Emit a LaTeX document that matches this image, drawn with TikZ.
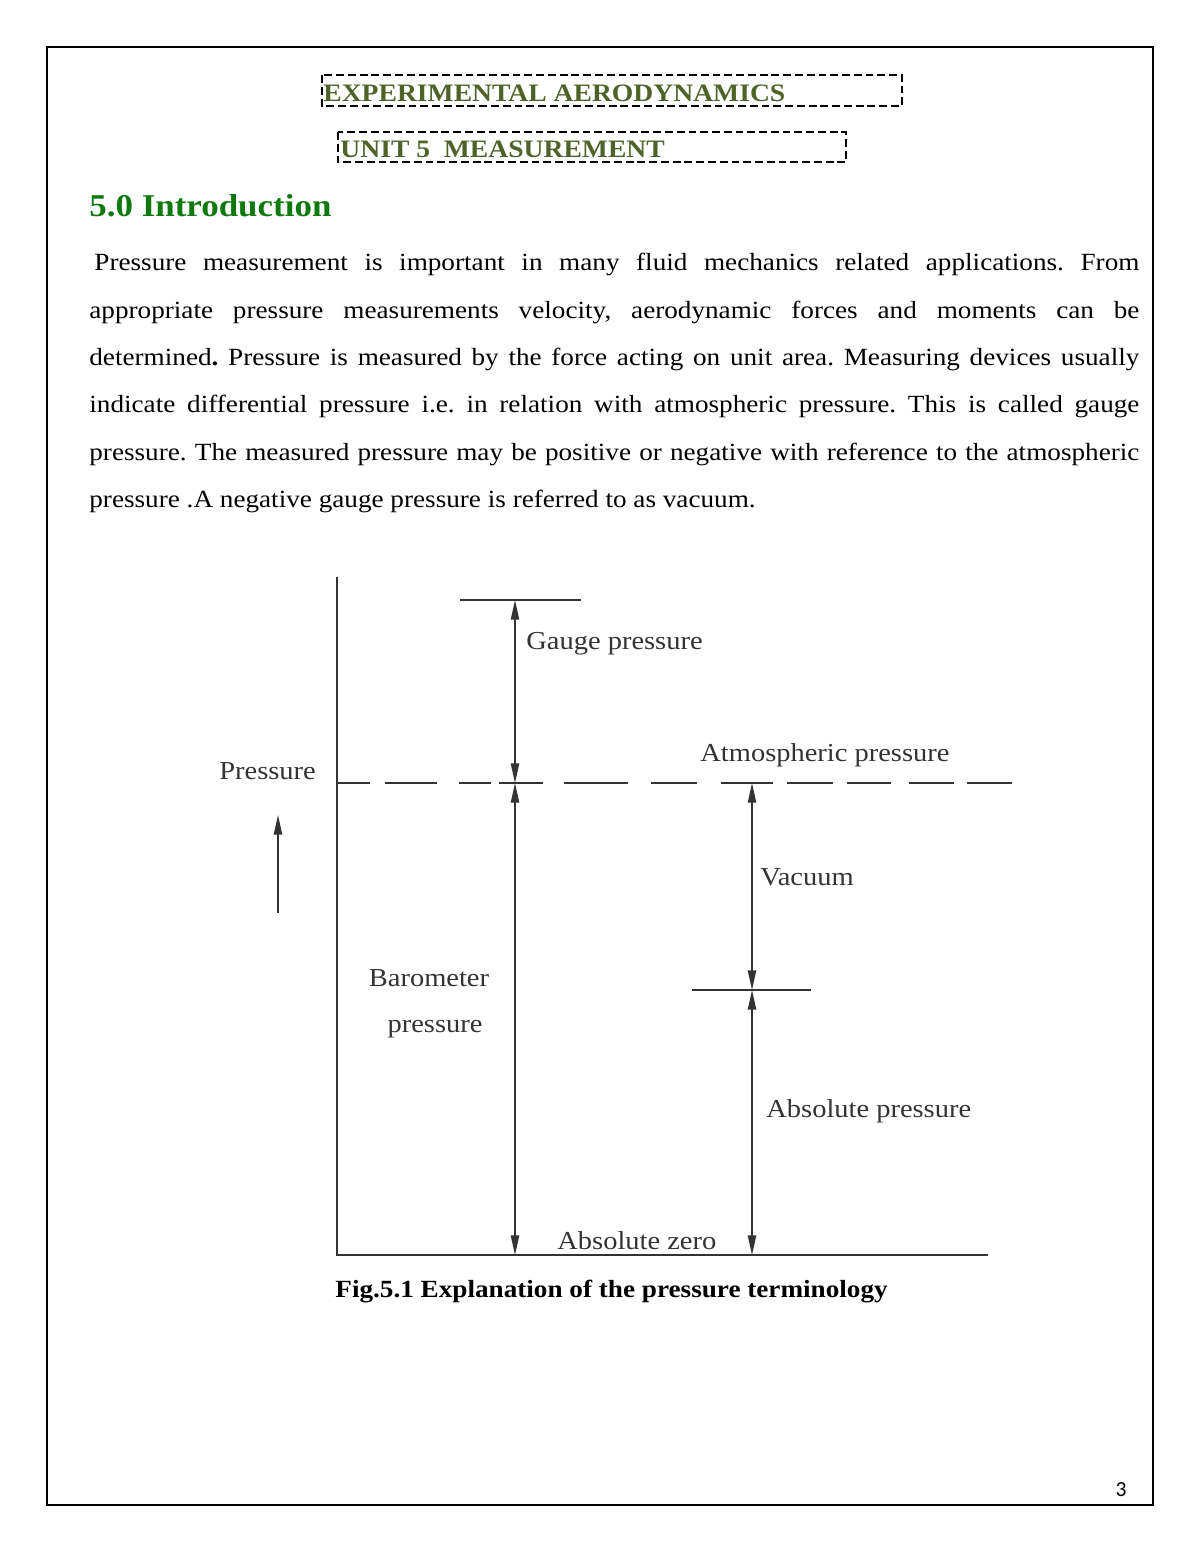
\documentclass[tikz,border=0pt]{standalone}
\usepackage{fontspec}
\setmainfont{Liberation Serif}[FakeStretch=1.1]
\newfontfamily\pagenofont{Carlito}
\usetikzlibrary{arrows.meta}
\definecolor{titleolive}{HTML}{4F6228}
\definecolor{headgreen}{HTML}{0E7A0E}
\definecolor{figgrey}{HTML}{333333}
\newlength\pxu
\setlength\pxu{0.51pt}

\begin{document}
\frenchspacing
\begin{tikzpicture}[x=0.51pt,y=-0.51pt]
\tikzset{
  pageframe/.style={draw=black,line width=0.6pt},
  titlebox/.style={draw=black,line width=1.4pt,dash pattern=on 4pt off 2pt},
  titletext/.style={anchor=base west,inner sep=0pt,text=titleolive,font=\fontsize{12.8}{15}\selectfont\bfseries},
  bodyline/.style={anchor=base west,inner sep=0pt,font=\fontsize{12.6}{15}\selectfont},
  figlabel/.style={inner sep=0pt,text=figgrey,font=\fontsize{13.2}{16}\selectfont},
  figline/.style={draw=figgrey,line width=1pt},
  dimarrow/.style={draw=figgrey,line width=0.8pt,{Triangle[length=10pt,width=4.2pt]}-{Triangle[length=10pt,width=4.2pt]}},
  uparrow/.style={draw=figgrey,line width=0.8pt,-{Triangle[length=10pt,width=4.2pt]}}
}
\useasboundingbox (0,0) rectangle (1200,1553);
\draw[pageframe] (47,47) rectangle (1153,1505);
% header
\draw[titlebox] (322,75) rectangle (902,106);
\draw[titlebox] (338,132) rectangle (846,162);
\node[titletext] (n_course) at (323,102) {EXPERIMENTAL AERODYNAMICS};
\node[titletext] (n_unit) at (340,158) {UNIT 5\ \ MEASUREMENT};
\node[anchor=base west,inner sep=0pt,text=headgreen,font=\fontsize{16.2}{19}\selectfont\bfseries] (n_intro) at (89,217) {5.0 Introduction};
% paragraph
\node[bodyline] (n_l1) at (94,270) {\makebox[1045\pxu][s]{Pressure measurement is important in many fluid mechanics related applications. From}};
\node[bodyline] (n_l2) at (89,318) {\makebox[1050\pxu][s]{appropriate pressure measurements velocity, aerodynamic forces and moments can be}};
\node[bodyline] (n_l3) at (89,365) {\makebox[1050\pxu][s]{determined\textbf{.} Pressure is measured by the force acting on unit area. Measuring devices usually}};
\node[bodyline] (n_l4) at (89,412) {\makebox[1050\pxu][s]{indicate differential pressure i.e. in relation with atmospheric pressure. This is called gauge}};
\node[bodyline] (n_l5) at (89,460) {\makebox[1050\pxu][s]{pressure. The measured pressure may be positive or negative with reference to the atmospheric}};
\node[bodyline] (n_l6) at (89,507) {pressure .A negative gauge pressure is referred to as vacuum.};
% figure
\draw[figline] (337,577) -- (337,1255) -- (988,1255);
\draw[figline] (460,600) -- (581,600);
\draw[figline] (692,990) -- (811,990);
\foreach \a/\b in {337/370,385/437,459/491,499/543,564/628,651/697,721/773,787/833,847/891,909/954,967/1012}
  \draw[figline] (\a,783) -- (\b,783);
\coordinate (c_gtop) at (515,600);
\coordinate (c_gatm) at (515,783);
\coordinate (c_gzero) at (515,1255);
\coordinate (c_vatm) at (752,783);
\coordinate (c_vbot) at (752,990);
\coordinate (c_vzero) at (752,1255);
\coordinate (c_pbot) at (278,913);
\coordinate (c_ptop) at (278,815);
\draw[dimarrow] (c_gtop) -- (c_gatm);
\draw[dimarrow] (c_gatm) -- (c_gzero);
\draw[dimarrow] (c_vatm) -- (c_vbot);
\draw[dimarrow] (c_vbot) -- (c_vzero);
\draw[uparrow] (c_pbot) -- (c_ptop);
\node[figlabel,anchor=base west] (n_gauge) at (526,649) {Gauge pressure};
\node[figlabel,anchor=base west] (n_atm) at (700,761) {Atmospheric pressure};
\node[figlabel,anchor=base west] (n_pres) at (219,779) {Pressure};
\node[figlabel,anchor=base west] (n_vac) at (760,885) {Vacuum};
\node[figlabel,anchor=north,align=center] (n_baro) at (429,969) {Barometer\\[7.5pt]\hspace*{12\pxu}pressure};
\node[figlabel,anchor=base west] (n_abs) at (766,1117) {Absolute pressure};
\node[figlabel,anchor=base west] (n_zero) at (557,1249) {Absolute zero};
\node[anchor=base west,inner sep=0pt,font=\fontsize{12.6}{15}\selectfont\bfseries] (n_cap) at (335,1297) {Fig.5.1 Explanation of the pressure terminology};
\node[anchor=base,inner sep=0pt,font=\pagenofont\fontsize{11}{13}\selectfont] (n_page) at (1121,1496) {3};
\end{tikzpicture}
\end{document}
